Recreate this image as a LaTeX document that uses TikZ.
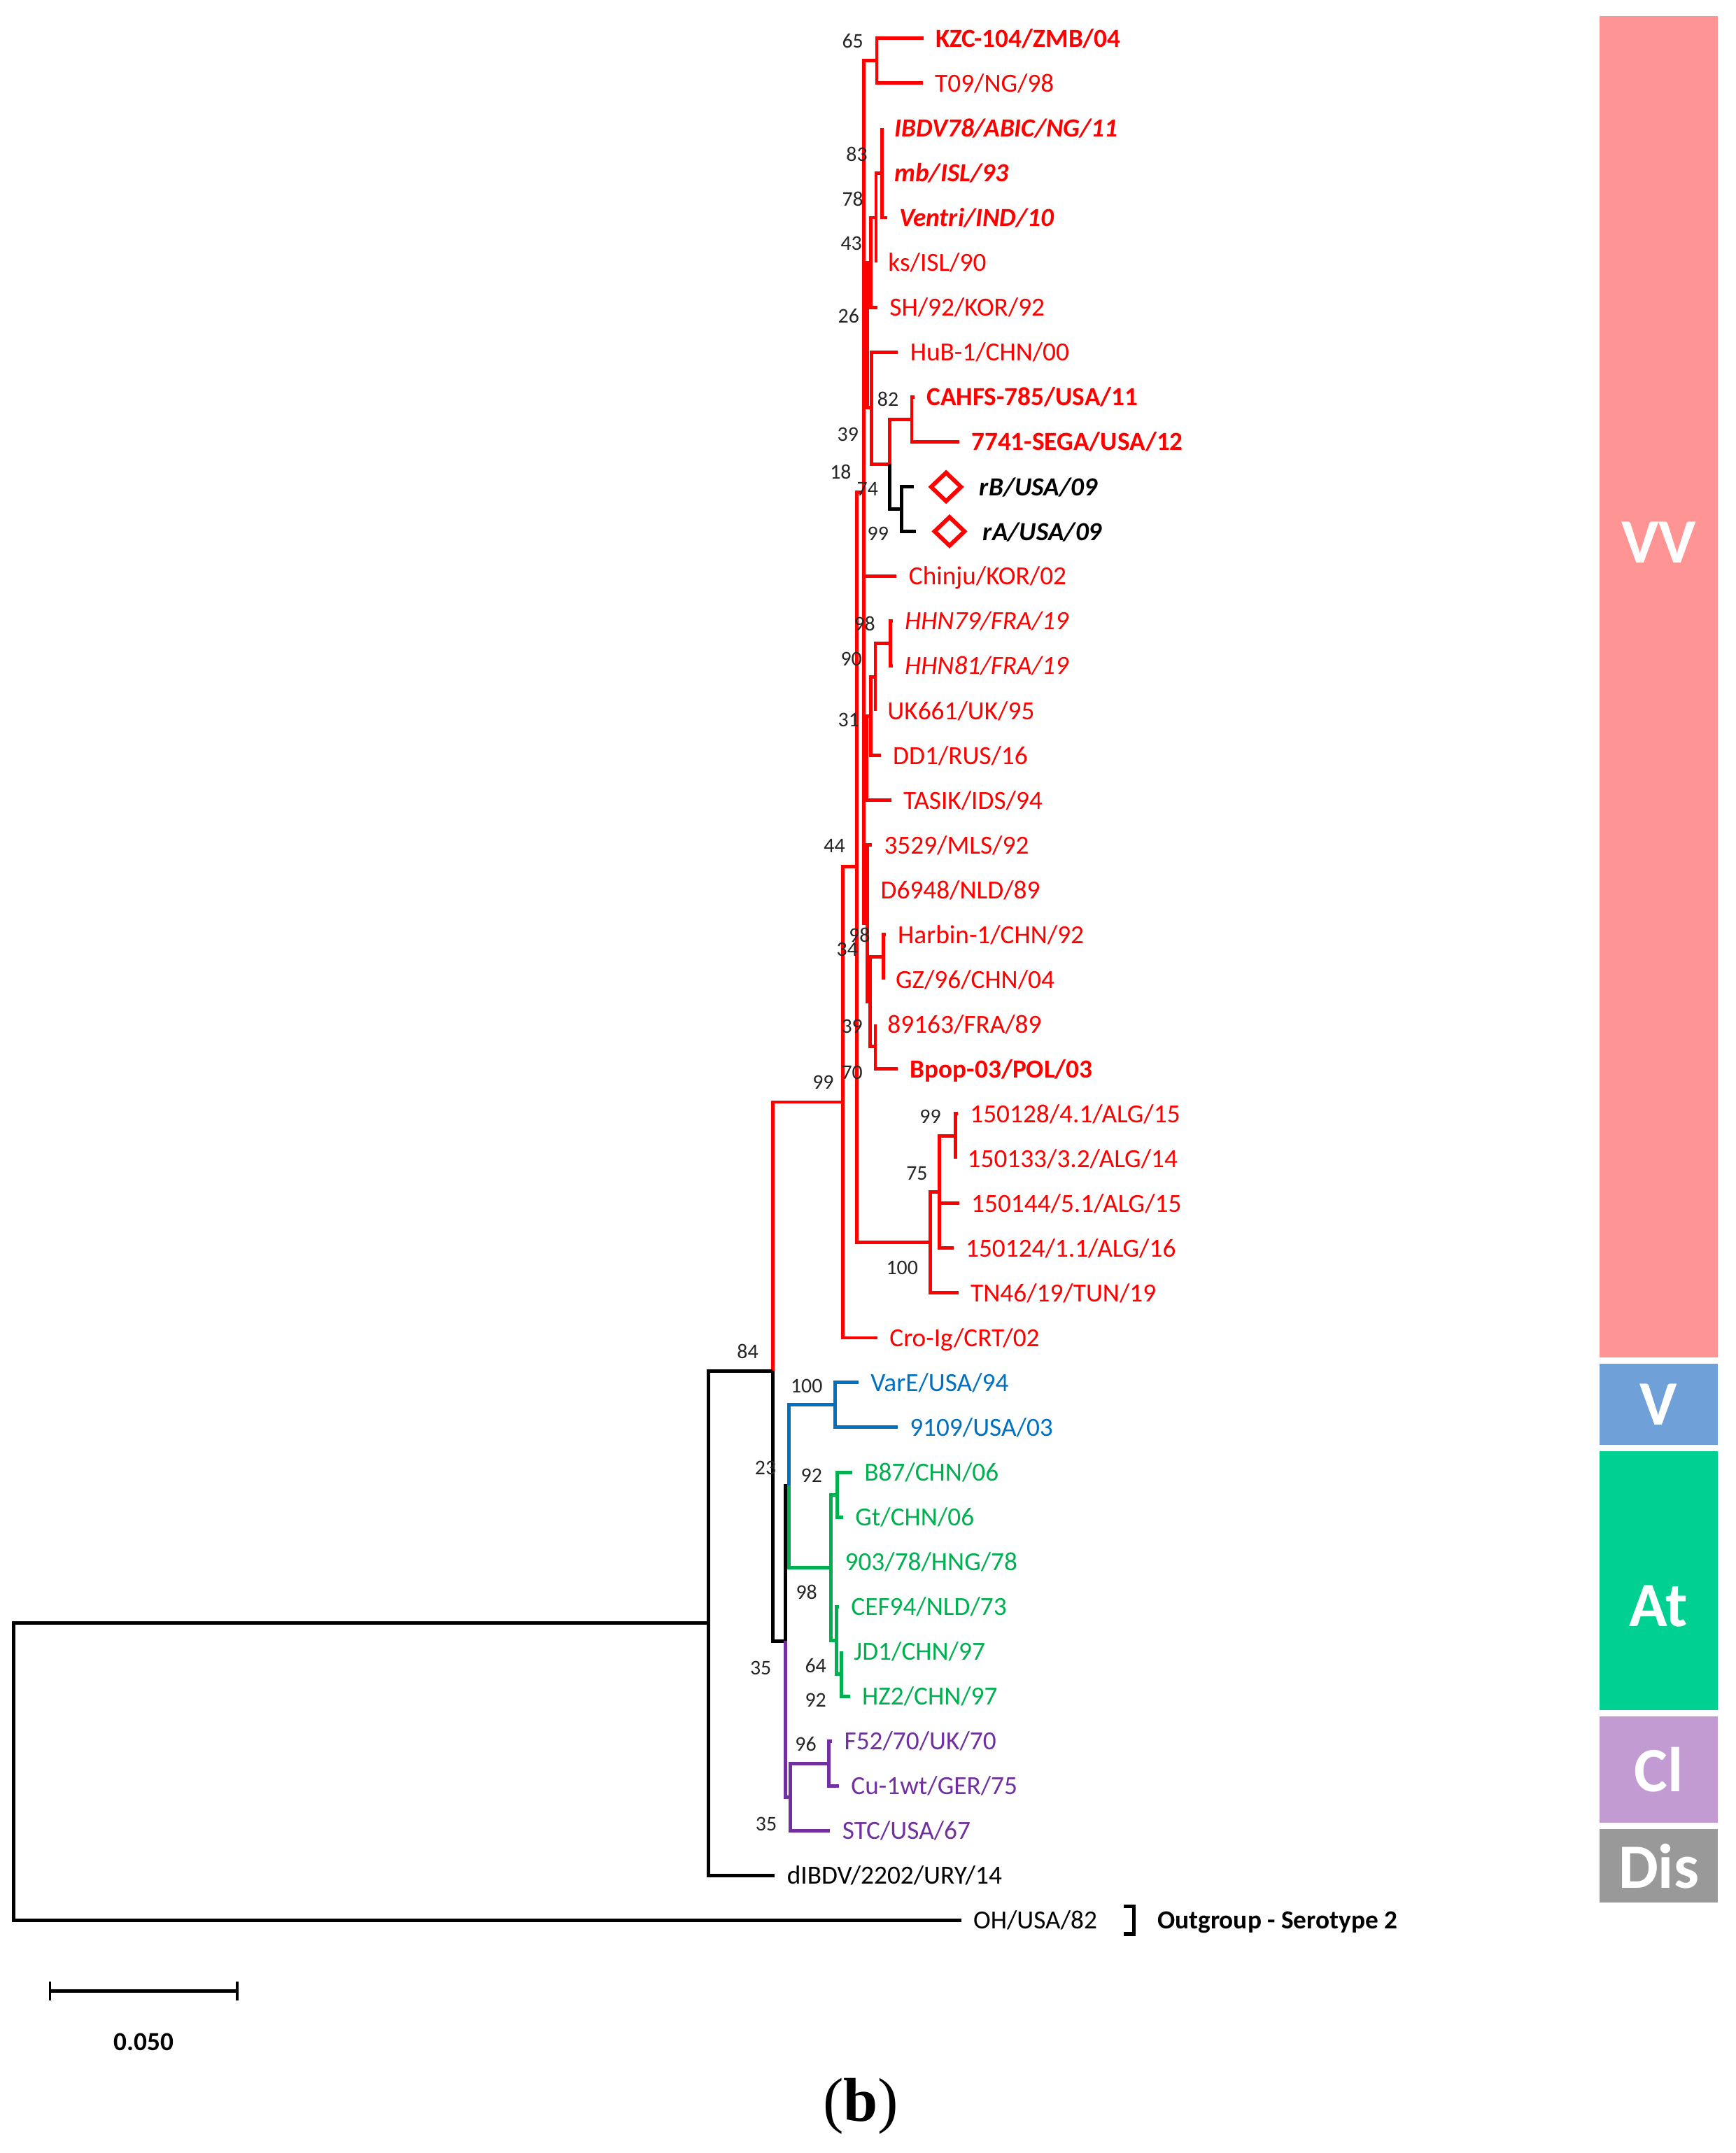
\documentclass[tikz,border=0pt]{standalone}
\usepackage{fontspec}
\setmainfont{Carlito}
\newfontfamily\capfont{Liberation Serif}
\usepackage{xcolor}
\usetikzlibrary{positioning,shapes.geometric}
\definecolor{vvred}{RGB}{255,0,0}
\definecolor{varblue}{RGB}{0,112,192}
\definecolor{atgreen}{RGB}{0,176,80}
\definecolor{clpurple}{RGB}{112,48,160}
\definecolor{barVV}{RGB}{255,148,148}
\definecolor{barV}{RGB}{111,160,216}
\definecolor{barAt}{RGB}{0,208,146}
\definecolor{barCl}{RGB}{195,155,211}
\definecolor{barDis}{RGB}{153,153,153}
\tikzset{
  br/.style={line width=1.25pt},
  redbr/.style={br,vvred},
  blkbr/.style={br,black},
  bluebr/.style={br,varblue},
  greenbr/.style={br,atgreen},
  purpbr/.style={br,clpurple},
  leaf/.style={inner sep=0pt,text height=0.64em,text depth=0pt,font=\fontsize{9.5}{11}\selectfont},
  boot/.style={inner sep=0pt,text height=0.64em,text depth=0pt,text=black!85,font=\fontsize{7.6}{8.5}\selectfont},
  dia/.style={diamond,draw=vvred,line width=1.5pt,minimum width=11.5pt,minimum height=11pt,inner sep=0pt},
  bartext/.style={text=white,font=\fontsize{23}{26}\selectfont\bfseries,inner sep=0pt}
}

\begin{document}
\begin{tikzpicture}[x=0.5pt,y=-0.5pt,line join=miter]
  \useasboundingbox (0,0) rectangle (1264,1568);
  \coordinate (R0) at (10,1290.3);
  \coordinate (R1) at (516,1182);
  \coordinate (N84) at (562.8,998.4);
  \coordinate (VV) at (614,802.6);
  \coordinate (A) at (624,631);
  \coordinate (B) at (629,358.4);
  \coordinate (KZ) at (638.5,44.3);
  \coordinate (G1) at (631.5,243.6);
  \coordinate (SH) at (634,191.2);
  \coordinate (KS) at (638,158.5);
  \coordinate (IB) at (642.5,125.9);
  \coordinate (HUB) at (634.7,296.7);
  \coordinate (NC) at (648,338);
  \coordinate (CA) at (664,305.3);
  \coordinate (NR) at (656.5,370.6);
  \coordinate (G2) at (631,551.9);
  \coordinate (DD) at (634,521.5);
  \coordinate (UK) at (637.5,493);
  \coordinate (HH) at (648.3,468.5);
  \coordinate (G3) at (631.5,672.4);
  \coordinate (HB) at (633.7,729.5);
  \coordinate (HG) at (643.4,696.9);
  \coordinate (BP) at (637.5,762.2);
  \coordinate (AL) at (677.6,904.6);
  \coordinate (N75) at (684,868.2);
  \coordinate (N99) at (695.7,827.4);
  \coordinate (X) at (571.8,1195);
  \coordinate (N23) at (574.5,1081.9);
  \coordinate (VB) at (608.3,1023.2);
  \coordinate (AT) at (605,1141.5);
  \coordinate (BG) at (609.5,1088.5);
  \coordinate (N64) at (609.4,1194.5);
  \coordinate (JH) at (613,1219);
  \coordinate (CL) at (575.6,1308.7);
  \coordinate (N96) at (603.6,1284.3);
  \coordinate (tKZC) at (672.5,28);
  \coordinate (tT09) at (672,60.6);
  \coordinate (tIBDV) at (642.5,93.3);
  \coordinate (tmb) at (642.5,125.9);
  \coordinate (tVen) at (646,158.5);
  \coordinate (tks) at (638,191.2);
  \coordinate (tSH) at (639,223.8);
  \coordinate (tHuB) at (654,256.4);
  \coordinate (tCAH) at (666,289);
  \coordinate (t7741) at (698.5,321.7);
  \coordinate (trB) at (665.5,354.3);
  \coordinate (trA) at (667,386.9);
  \coordinate (tChi) at (653,419.6);
  \coordinate (tH79) at (650,452.2);
  \coordinate (tH81) at (650,484.8);
  \coordinate (tUK) at (637.5,517.5);
  \coordinate (tDD1) at (641.4,550.1);
  \coordinate (tTAS) at (649,582.7);
  \coordinate (t3529) at (635,615.3);
  \coordinate (tD69) at (632.5,648);
  \coordinate (tHar) at (645,680.6);
  \coordinate (tGZ) at (643.4,713.2);
  \coordinate (t891) at (637.5,745.9);
  \coordinate (tBpop) at (654,778.5);
  \coordinate (t128) at (697.6,811.1);
  \coordinate (t133) at (695.7,843.8);
  \coordinate (t144) at (698.5,876.4);
  \coordinate (t124) at (694.4,909);
  \coordinate (tTN) at (698,941.6);
  \coordinate (tCro) at (639,974.3);
  \coordinate (tVarE) at (625.2,1006.9);
  \coordinate (t9109) at (653.7,1039.5);
  \coordinate (tB87) at (620.6,1072.2);
  \coordinate (tGt) at (614,1104.8);
  \coordinate (t903) at (606.5,1137.4);
  \coordinate (tCEF) at (611,1170.1);
  \coordinate (tJD1) at (613,1202.7);
  \coordinate (tHZ2) at (619,1235.3);
  \coordinate (tF52) at (606,1267.9);
  \coordinate (tCu) at (611,1300.6);
  \coordinate (tSTC) at (604.6,1333.2);
  \coordinate (tdIB) at (564.3,1365.8);
  \coordinate (tOH) at (700,1398.5);
  \draw[redbr] (N84) |- (VV);
  \draw[redbr] (VV) |- (A) (VV) |- (tCro);
  \draw[redbr] (A) |- (B) (A) |- (AL);
  \draw[redbr] (B) |- (KZ) (B) |- (G1) (B) |- (tChi) (B) |- (G2) (B) |- (G3);
  \draw[redbr] (KZ) |- (tKZC) (KZ) |- (tT09);
  \draw[redbr] (G1) |- (SH) (G1) |- (HUB);
  \draw[redbr] (SH) |- (KS) (SH) |- (tSH);
  \draw[redbr] (KS) |- (IB) (KS) |- (tks);
  \draw[redbr] (IB) |- (tIBDV) (IB) |- (tmb) (IB) |- (tVen);
  \draw[redbr] (HUB) |- (tHuB) (HUB) |- (NC);
  \draw[redbr] (NC) |- (CA);
  \draw[redbr] (CA) |- (tCAH) (CA) |- (t7741);
  \draw[redbr] (G2) |- (DD) (G2) |- (tTAS);
  \draw[redbr] (DD) |- (UK) (DD) |- (tDD1);
  \draw[redbr] (UK) |- (HH) (UK) |- (tUK);
  \draw[redbr] (HH) |- (tH79) (HH) |- (tH81);
  \draw[redbr] (G3) |- (t3529) (G3) |- (tD69) (G3) |- (HB);
  \draw[redbr] (HB) |- (HG) (HB) |- (BP);
  \draw[redbr] (HG) |- (tHar) (HG) |- (tGZ);
  \draw[redbr] (BP) |- (t891) (BP) |- (tBpop);
  \draw[redbr] (AL) |- (N75) (AL) |- (tTN);
  \draw[redbr] (N75) |- (N99) (N75) |- (t144) (N75) |- (t124);
  \draw[redbr] (N99) |- (t128) (N99) |- (t133);
  \draw[blkbr] (NC) |- (NR);
  \draw[blkbr] (NR) |- (trB) (NR) |- (trA);
  \draw[blkbr] (R0) |- (R1) (R0) |- (tOH);
  \draw[blkbr] (R1) |- (N84) (R1) |- (tdIB);
  \draw[blkbr] (N84) |- (X);
  \draw[blkbr] (X) |- (N23);
  \draw[bluebr] (N23) |- (VB);
  \draw[bluebr] (VB) |- (tVarE) (VB) |- (t9109);
  \draw[greenbr] (N23) |- (AT);
  \draw[greenbr] (AT) |- (BG) (AT) |- (t903) (AT) |- (N64);
  \draw[greenbr] (BG) |- (tB87) (BG) |- (tGt);
  \draw[greenbr] (N64) |- (tCEF) (N64) |- (JH);
  \draw[greenbr] (JH) |- (tJD1) (JH) |- (tHZ2);
  \draw[purpbr] (X) |- (CL);
  \draw[purpbr] (CL) |- (N96) (CL) |- (tSTC);
  \draw[purpbr] (N96) |- (tF52) (N96) |- (tCu);
  \node[leaf,text=vvred,right=4.25pt of tKZC] (nKZC) {\bfseries KZC-104/ZMB/04};
  \node[leaf,text=vvred,right=4.25pt of tT09] (nT09) {T09/NG/98};
  \node[leaf,text=vvred,right=4.25pt of tIBDV] (nIBDV) {\bfseries\itshape IBDV78/ABIC/NG/11};
  \node[leaf,text=vvred,right=4.25pt of tmb] (nmb) {\bfseries\itshape mb/ISL/93};
  \node[leaf,text=vvred,right=4.25pt of tVen] (nVen) {\bfseries\itshape Ventri/IND/10};
  \node[leaf,text=vvred,right=4.25pt of tks] (nks) {ks/ISL/90};
  \node[leaf,text=vvred,right=4.25pt of tSH] (nSH) {SH/92/KOR/92};
  \node[leaf,text=vvred,right=4.25pt of tHuB] (nHuB) {HuB-1/CHN/00};
  \node[leaf,text=vvred,right=4.25pt of tCAH] (nCAH) {\bfseries CAHFS-785/USA/11};
  \node[leaf,text=vvred,right=4.25pt of t7741] (n7741) {\bfseries 7741-SEGA/USA/12};
  \node[dia] (dB) at (689,354.6) {};
  \node[dia] (dA) at (691.5,387) {};
  \node[leaf,right=5.5pt of dB] (nrB) {\bfseries\itshape rB/USA/09};
  \node[leaf,right=5.5pt of dA] (nrA) {\bfseries\itshape rA/USA/09};
  \node[leaf,text=vvred,right=4.25pt of tChi] (nChi) {Chinju/KOR/02};
  \node[leaf,text=vvred,right=4.25pt of tH79] (nH79) {\itshape HHN79/FRA/19};
  \node[leaf,text=vvred,right=4.25pt of tH81] (nH81) {\itshape HHN81/FRA/19};
  \node[leaf,text=vvred,right=4.25pt of tUK] (nUK) {UK661/UK/95};
  \node[leaf,text=vvred,right=4.25pt of tDD1] (nDD1) {DD1/RUS/16};
  \node[leaf,text=vvred,right=4.25pt of tTAS] (nTAS) {TASIK/IDS/94};
  \node[leaf,text=vvred,right=4.25pt of t3529] (n3529) {3529/MLS/92};
  \node[leaf,text=vvred,right=4.25pt of tD69] (nD69) {D6948/NLD/89};
  \node[leaf,text=vvred,right=4.25pt of tHar] (nHar) {Harbin-1/CHN/92};
  \node[leaf,text=vvred,right=4.25pt of tGZ] (nGZ) {GZ/96/CHN/04};
  \node[leaf,text=vvred,right=4.25pt of t891] (n891) {89163/FRA/89};
  \node[leaf,text=vvred,right=4.25pt of tBpop] (nBpop) {\bfseries Bpop-03/POL/03};
  \node[leaf,text=vvred,right=4.25pt of t128] (n128) {150128/4.1/ALG/15};
  \node[leaf,text=vvred,right=4.25pt of t133] (n133) {150133/3.2/ALG/14};
  \node[leaf,text=vvred,right=4.25pt of t144] (n144) {150144/5.1/ALG/15};
  \node[leaf,text=vvred,right=4.25pt of t124] (n124) {150124/1.1/ALG/16};
  \node[leaf,text=vvred,right=4.25pt of tTN] (nTN) {TN46/19/TUN/19};
  \node[leaf,text=vvred,right=4.25pt of tCro] (nCro) {Cro-Ig/CRT/02};
  \node[leaf,text=varblue,right=4.25pt of tVarE] (nVarE) {VarE/USA/94};
  \node[leaf,text=varblue,right=4.25pt of t9109] (n9109) {9109/USA/03};
  \node[leaf,text=atgreen,right=4.25pt of tB87] (nB87) {B87/CHN/06};
  \node[leaf,text=atgreen,right=4.25pt of tGt] (nGt) {Gt/CHN/06};
  \node[leaf,text=atgreen,right=4.25pt of t903] (n903) {903/78/HNG/78};
  \node[leaf,text=atgreen,right=4.25pt of tCEF] (nCEF) {CEF94/NLD/73};
  \node[leaf,text=atgreen,right=4.25pt of tJD1] (nJD1) {JD1/CHN/97};
  \node[leaf,text=atgreen,right=4.25pt of tHZ2] (nHZ2) {HZ2/CHN/97};
  \node[leaf,text=clpurple,right=4.25pt of tF52] (nF52) {F52/70/UK/70};
  \node[leaf,text=clpurple,right=4.25pt of tCu] (nCu) {Cu-1wt/GER/75};
  \node[leaf,text=clpurple,right=4.25pt of tSTC] (nSTC) {STC/USA/67};
  \node[leaf,right=4.25pt of tdIB] (ndIB) {dIBDV/2202/URY/14};
  \node[leaf,right=4.25pt of tOH] (nOH) {OH/USA/82};
  \draw[line width=1.3pt] (818.5,1388.5) -- (826,1388.5) -- (826,1408.5) -- (818.5,1408.5);
  \node[leaf,anchor=west] (nOut) at (842.6,1398.5) {\bfseries Outgroup - Serotype 2};
  \node[boot] (b65) at (621,28.4) {65};
  \node[boot] (b83) at (624,111) {83};
  \node[boot] (b78) at (621,143.7) {78};
  \node[boot] (b43) at (620,175.6) {43};
  \node[boot] (b26) at (618,228.6) {26};
  \node[boot] (b82) at (646.7,289.3) {82};
  \node[boot] (b39a) at (617.5,315) {39};
  \node[boot] (b18) at (612.2,342.3) {18};
  \node[boot] (b74) at (631.8,354.6) {74};
  \node[boot] (b99a) at (639.4,387.5) {99};
  \node[boot] (b98a) at (629.7,453) {98};
  \node[boot] (b90) at (620,478.5) {90};
  \node[boot] (b31) at (618,522.7) {31};
  \node[boot] (b44) at (607.7,614.4) {44};
  \node[boot] (b98b) at (626,680) {98};
  \node[boot] (b34) at (617,690) {34};
  \node[boot] (b39b) at (620.5,746) {39};
  \node[boot] (b70) at (620.5,779.5) {70};
  \node[boot] (b99b) at (599.5,787) {99};
  \node[boot] (b99c) at (677.5,811.6) {99};
  \node[boot] (b75) at (667.8,853) {75};
  \node[boot] (b100a) at (657,922) {100};
  \node[boot] (b84) at (544.5,983) {84};
  \node[boot] (b100b) at (587.4,1008) {100};
  \node[boot] (b23) at (557.5,1067.4) {23};
  \node[boot] (b92a) at (591,1073) {92};
  \node[boot] (b98c) at (587.4,1158) {98};
  \node[boot] (b35a) at (554,1213.5) {35};
  \node[boot] (b64) at (594,1211.6) {64};
  \node[boot] (b92b) at (594,1236.5) {92};
  \node[boot] (b96) at (586.8,1269) {96};
  \node[boot] (b35b) at (558,1327) {35};
  \fill[barVV] (1165,11.7) rectangle (1251,988.7);
  \fill[barV] (1165,993.4) rectangle (1251,1052.2);
  \fill[barAt] (1165,1057) rectangle (1251,1245.5);
  \fill[barCl] (1165,1250) rectangle (1251,1327.5);
  \fill[barDis] (1165,1331.8) rectangle (1251,1385.5);
  \node[bartext] (sVV) at (1208,395) {VV};
  \node[bartext] (sV) at (1208,1023) {V};
  \node[bartext] (sAt) at (1208,1170) {At};
  \node[bartext] (sCl) at (1208,1289) {Cl};
  \node[bartext] (sDis) at (1208,1359) {Dis};
  \draw[line width=1.3pt] (36.4,1450) -- (172.8,1450);
  \draw[line width=0.9pt] (36.4,1443) -- (36.4,1457);
  \draw[line width=0.9pt] (172.8,1443) -- (172.8,1457);
  \node[inner sep=0pt,font=\fontsize{9.5}{11}\selectfont\bfseries] (scl) at (104.6,1487) {0.050};
  \node[inner sep=0pt,font=\capfont\fontsize{22.5}{26}\selectfont] (cap) at (627,1534) {(\textbf{b})};
\end{tikzpicture}
\end{document}
